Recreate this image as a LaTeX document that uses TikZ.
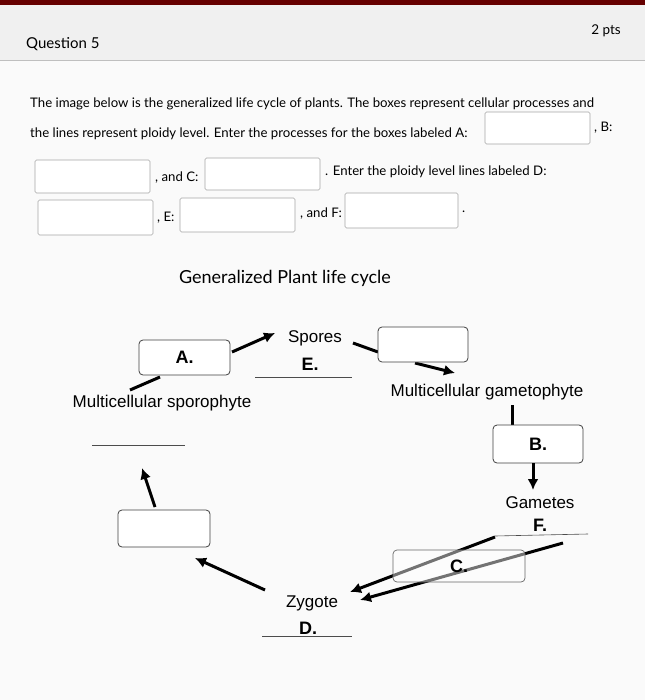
\documentclass[tikz,border=0pt]{standalone}
\usepackage{fontspec}
\setmainfont{Lato}
\newfontfamily\arialf{Liberation Sans}
\usetikzlibrary{arrows.meta}
\begin{document}
\begin{tikzpicture}[x=1pt,y=-1pt,
  inbox/.style={draw=gray!70,rounded corners=1.5pt,line width=0.6pt},
  dbox/.style={draw=black!75,rounded corners=4pt,line width=0.8pt,fill=white},
  qtext/.style={font=\fontsize{13.2}{15}\selectfont,anchor=west,inner sep=0pt},
  dtext/.style={font=\arialf\fontsize{17}{19}\selectfont,inner sep=0pt},
  blab/.style={font=\arialf\bfseries\fontsize{18}{20}\selectfont,inner sep=0pt},
  thick line/.style={line width=3pt},
  arr/.style={line width=3pt,-{Latex[length=11pt,width=11pt]}},
  uline/.style={line width=0.6pt,draw=black!70}]
\useasboundingbox (0,0) rectangle (645,700);
\fill[gray!4] (0,0) rectangle (645,700);
\fill[gray!12] (0,5) rectangle (645,60);
\fill[red!40!black] (0,0) rectangle (645,5);
\draw[gray!50] (0,60) -- (645,60);
\node[font=\fontsize{15}{17}\selectfont,anchor=west,inner sep=0pt] (q) at (26,44) {Question 5};
\node[font=\fontsize{13.5}{15}\selectfont] (pts) at (606,31) {2 pts};
\node[qtext] (t1) at (30,104) {The image below is the generalized life cycle of plants. The boxes represent cellular processes and};
\node[qtext] (t2) at (30,134) {the lines represent ploidy level. Enter the processes for the boxes labeled A:};
\draw[inbox,fill=white] (485,112) rectangle (590,144);
\node[qtext] (b) at (594,128) {, B:};
\draw[inbox,fill=white] (35,160) rectangle (150,193);
\node[qtext] (c) at (155,178) {, and C:};
\draw[inbox,fill=white] (205,158) rectangle (320,190);
\node[qtext] (d) at (325,172) {. Enter the ploidy level lines labeled D:};
\draw[inbox,fill=white] (38,200) rectangle (153,235);
\node[qtext] (e) at (157,218) {, E:};
\draw[inbox,fill=white] (180,198) rectangle (295,232);
\node[qtext] (f) at (300,214) {, and F:};
\draw[inbox,fill=white] (345,193) rectangle (458,228);
\node[qtext] (dot) at (462,212) {.};
\node[font=\fontsize{18}{21}\selectfont] (title) at (285,278) {Generalized Plant life cycle};
% diagram
\draw[thick line] (160,377) -- (130,390);
\draw[dbox] (139,340) rectangle node[blab] (A) {A.} (230,375);
\draw[arr] (232,352) -- (275,333);
\node[dtext] (spores) at (315,338) {Spores};
\node[blab] (E) at (310,364) {E.};
\draw[uline] (255,377) -- (352,377);
\draw[thick line] (353,343) -- (378,352);
\draw[arr] (415,363) -- (455,373);
\draw[dbox] (378,327) rectangle (468,362);
\node[dtext] (mg) at (487,392) {Multicellular gametophyte};
\node[dtext] (ms) at (162,403) {Multicellular sporophyte};
\draw[thick line] (512,405) -- (512,427);
\draw[dbox] (493,425) rectangle node[blab] (B) {B.} (583,463);
\draw[arr] (533,463) -- (533,490);
\node[dtext] (gam) at (540,503) {Gametes};
\node[blab] (F) at (540,525) {F.};
\draw[uline] (495,536) -- (588,534);
\draw[arr] (495,537) -- (350,592);
\draw[arr] (563,543) -- (360,600);
\draw[draw=black!60,rounded corners=4pt,line width=0.7pt,fill=white,fill opacity=0.45] (393,550) rectangle node[blab,fill opacity=1] (C) {C.} (525,582);
\node[dtext] (zy) at (312,603) {Zygote};
\node[blab] (D) at (308,628) {D.};
\draw[uline] (262,636) -- (352,636);
\draw[arr] (265,590) -- (195,558);
\draw[dbox] (118,510) rectangle (210,547);
\draw[arr] (155,507) -- (142,468);
\draw[uline] (92,445) -- (185,445);
\end{tikzpicture}
\end{document}
